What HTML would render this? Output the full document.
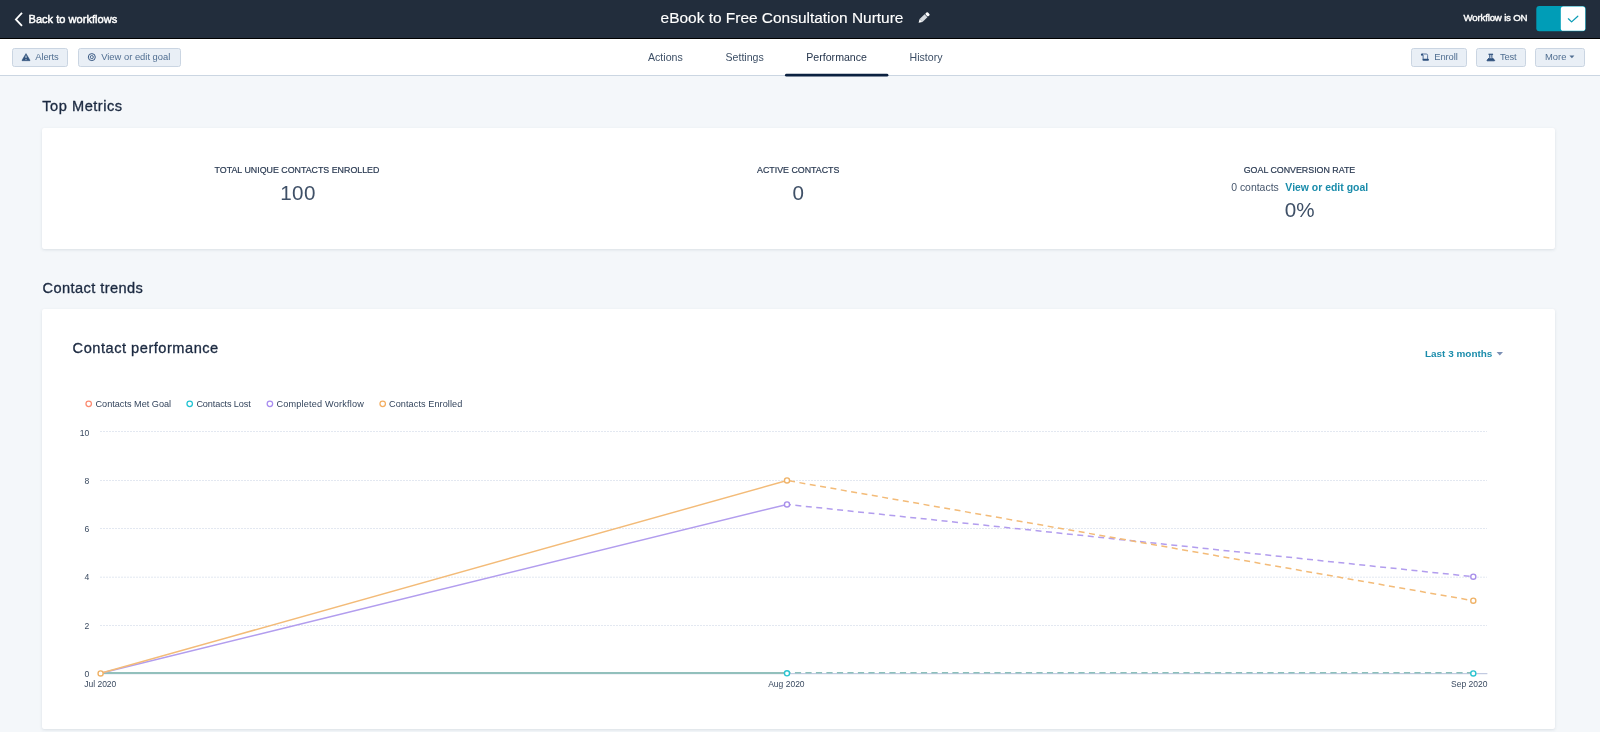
<!DOCTYPE html>
<html>
<head>
<meta charset="utf-8">
<title>Workflow performance</title>
<style>
*{box-sizing:border-box;margin:0;padding:0}
html,body{width:1600px;height:732px;overflow:hidden;background:#f4f7fa;font-family:"Liberation Sans",sans-serif;color:#2e3f55}
.abs{position:absolute;white-space:nowrap;line-height:1}
#hdr{position:absolute;left:0;top:0;width:1600px;height:39px;background:#222d3c;border-bottom:1px solid #000}
#nav{position:absolute;left:0;top:39px;width:1600px;height:37px;background:#fff;border-bottom:1px solid #cbd6e2}
.btn{position:absolute;top:48px;height:19px;background:#e9eff6;border:1px solid #cad5e2;border-radius:2.5px}
.btxt{position:absolute;white-space:nowrap;line-height:1;font-size:9.4px;color:#506e91;top:51.6px}
.tab{position:absolute;white-space:nowrap;line-height:1;font-size:10.6px;color:#3d4f66;top:51.6px}
.card{position:absolute;left:42px;width:1513px;background:#fff;border-radius:2px;box-shadow:0 1px 3px rgba(45,62,80,.12),0 0 1px rgba(45,62,80,.06)}
.h1{position:absolute;white-space:nowrap;line-height:1;font-size:14.6px;color:#1b2940;font-weight:normal;-webkit-text-stroke:0.32px #1b2940;letter-spacing:0.52px}
.mlabel{position:absolute;white-space:nowrap;line-height:1;font-size:8.85px;color:#2a3a52;text-align:center;width:400px;-webkit-text-stroke:0.2px #2a3a52}
.mval{position:absolute;white-space:nowrap;line-height:1;font-size:20.6px;color:#3f5067;text-align:center;width:400px}
.leg{position:absolute;white-space:nowrap;line-height:1;font-size:9.15px;color:#33445c;top:399.5px}
.ax{position:absolute;white-space:nowrap;line-height:1;font-size:8.6px;color:#3a4a60}
</style>
</head>
<body>
<div id="wrap" style="position:absolute;left:0;top:0;width:1600px;height:732px;will-change:transform">
<div id="hdr"></div>
<div id="nav"></div>

<!-- header content -->
<svg class="abs" style="left:12px;top:10px" width="14" height="18" viewBox="12 10 14 18"><path d="M22 12.9 L15.9 19.4 L22 25.9" fill="none" stroke="#fff" stroke-width="1.8" stroke-linecap="butt" stroke-linejoin="miter"/></svg>
<div class="abs" id="back" style="left:28.5px;top:13.6px;font-size:11.1px;color:#fff;-webkit-text-stroke:0.45px #fff">Back to workflows</div>
<div class="abs" id="title" style="left:660.6px;top:9.6px;font-size:15.45px;color:#fff;-webkit-text-stroke:0.15px #fff">eBook to Free Consultation Nurture</div>
<svg class="abs" style="left:914px;top:8px" width="20" height="20" viewBox="914 8 20 20"><g transform="translate(918.6 22.8) rotate(-43.5)"><path d="M0 0 L3.4 -2.05 L3.4 2.05 Z" fill="#fff"/><rect x="3.4" y="-2.05" width="6.8" height="4.1" fill="#d6dbe0"/><rect x="10.8" y="-2.05" width="3.1" height="4.1" rx="1.1" fill="#fff"/></g></svg>
<div class="abs" id="wfon" style="left:1463.6px;top:12.9px;font-size:9.7px;letter-spacing:-0.2px;color:#fff;-webkit-text-stroke:0.4px #fff">Workflow is ON</div>
<svg class="abs" style="left:1530px;top:0" width="60" height="38" viewBox="1530 0 60 38">
  <rect x="1536.3" y="6" width="49.4" height="25.3" rx="3" fill="#009db7"/>
  <rect x="1560.8" y="6.5" width="24.4" height="24.3" rx="2.6" fill="#fff"/>
  <path d="M1568.4 18.8 L1571.6 21.9 L1577.8 16.2" fill="none" stroke="#0a9cb6" stroke-width="1.25" stroke-linecap="round" stroke-linejoin="round"/>
</svg>

<!-- nav buttons left -->
<div class="btn" style="left:12px;width:56px"></div>
<div class="btn" style="left:78px;width:103px"></div>
<svg class="abs" style="left:20px;top:50px" width="14" height="14" viewBox="20 50 14 14"><path d="M26 53.6 L30 60.2 Q30.2 60.7 29.6 60.7 H22.4 Q21.8 60.7 22 60.2 Z" fill="#30527c" stroke="#30527c" stroke-width="0.5" stroke-linejoin="round"/><path d="M26 55.6 V58.1 M26 59 V59.8" stroke="#e9eff6" stroke-width="0.9" fill="none"/></svg>
<svg class="abs" style="left:85px;top:50px" width="14" height="14" viewBox="85 50 14 14"><circle cx="91.8" cy="57.1" r="3.5" fill="none" stroke="#3a5a84" stroke-width="1"/><circle cx="91.8" cy="57.1" r="1.55" fill="none" stroke="#3a5a84" stroke-width="0.9"/></svg>
<div class="btxt" id="b1" style="left:35.3px;letter-spacing:-0.1px">Alerts</div>
<div class="btxt" id="b2" style="left:101.2px">View or edit goal</div>

<!-- tabs -->
<div class="tab" id="t1" style="left:648px">Actions</div>
<div class="tab" id="t2" style="left:725.5px">Settings</div>
<div class="tab" id="t3" style="left:806.3px;color:#26364d">Performance</div>
<div class="tab" id="t4" style="left:909.5px">History</div>
<svg class="abs" style="left:780px;top:70px" width="114" height="10" viewBox="780 70 114 10"><rect x="785" y="73.7" width="103.4" height="2.9" rx="1.45" fill="#0b2140"/></svg>

<!-- nav buttons right -->
<div class="btn" style="left:1411px;width:56px"></div>
<div class="btn" style="left:1476px;width:50px"></div>
<div class="btn" style="left:1535px;width:50px"></div>
<svg class="abs" style="left:1418px;top:50px" width="14" height="14" viewBox="1418 50 14 14">
  <path d="M1422.2 54 H1426.3 Q1427.6 54 1427.6 55.3 V59" fill="none" stroke="#5d78a1" stroke-width="1"/>
  <path d="M1423.1 55 V59.3" fill="none" stroke="#4f6c98" stroke-width="1"/>
  <circle cx="1422" cy="54.7" r="1.1" fill="#2c4f7c"/>
  <path d="M1423.4 59.75 H1428" stroke="#2c4f7c" stroke-width="1.9" stroke-linecap="round" fill="none"/>
</svg>
<svg class="abs" style="left:1484px;top:50px" width="14" height="14" viewBox="1484 50 14 14">
  <path d="M1489.7 54.6 V57.4 L1487 60.3 Q1486.8 60.8 1487.4 60.8 H1494.2 Q1494.8 60.8 1494.6 60.3 L1491.9 57.4 V54.6" fill="#c3cfe0" stroke="#2c4f7c" stroke-width="0.9" stroke-linejoin="round"/>
  <path d="M1488.7 58.3 H1492.9 L1494.6 60.3 Q1494.8 60.8 1494.2 60.8 H1487.4 Q1486.8 60.8 1487 60.3 Z" fill="#2c4f7c"/>
  <path d="M1488.5 54.3 H1493.1" stroke="#2c4f7c" stroke-width="1.2" fill="none"/>
</svg>
<div class="btxt" id="b3" style="left:1434.3px;letter-spacing:-0.1px">Enroll</div>
<div class="btxt" id="b4" style="left:1500px;letter-spacing:-0.2px">Test</div>
<div class="btxt" id="b5" style="left:1545px">More</div>
<svg class="abs" style="left:1568px;top:54px" width="8" height="6" viewBox="1568 54 8 6"><path d="M1569.4 55.6 H1574.4 L1571.9 58.3 Z" fill="#506e91"/></svg>

<!-- body -->
<div class="h1" id="h_top" style="left:42.3px;top:99px">Top Metrics</div>
<div class="card" style="top:128px;height:120.5px"></div>

<div class="mlabel" id="m1l" style="left:97px;top:166.2px">TOTAL UNIQUE CONTACTS ENROLLED</div>
<div class="mval" id="m1v" style="left:98px;top:182.5px;letter-spacing:0.4px">100</div>
<div class="mlabel" id="m2l" style="left:598.2px;top:166.2px">ACTIVE CONTACTS</div>
<div class="mval" id="m2v" style="left:598.3px;top:182.5px">0</div>
<div class="mlabel" id="m3l" style="left:1099.5px;top:166.2px">GOAL CONVERSION RATE</div>
<div class="abs" style="left:1231.2px;top:183.1px;font-size:10.45px;color:#46566c"><span id="m3c">0 contacts</span><span id="m3g" style="color:#1a8cab;font-weight:bold;margin-left:6.6px">View or edit goal</span></div>
<div class="mval" id="m3v" style="left:1099.6px;top:200.2px">0%</div>

<div class="h1" id="h_ct" style="left:42.5px;top:281.3px;letter-spacing:0.42px">Contact trends</div>
<div class="card" style="top:309px;height:420px"></div>
<div class="h1" id="h_cp" style="left:72.6px;top:341.4px">Contact performance</div>
<div class="abs" id="l3m" style="left:1425px;top:348.6px;font-size:9.95px;font-weight:bold;color:#1a8cab">Last 3 months</div>
<svg class="abs" style="left:1495px;top:350px" width="10" height="8" viewBox="1495 350 10 8"><path d="M1496.6 352.1 H1503 L1499.8 355.6 Z" fill="#7b8fb4"/></svg>

<!-- legend -->
<div class="leg" id="lg1" style="left:95.5px">Contacts Met Goal</div>
<div class="leg" id="lg2" style="left:196.4px;letter-spacing:-0.12px">Contacts Lost</div>
<div class="leg" id="lg3" style="left:276.4px;letter-spacing:0.2px">Completed Workflow</div>
<div class="leg" id="lg4" style="left:389px;letter-spacing:0.08px">Contacts Enrolled</div>

<!-- chart -->
<svg class="abs" style="left:0;top:380px" width="1600" height="352" viewBox="0 380 1600 352">
  <g fill="#fff" stroke-width="1.25">
    <circle cx="88.7" cy="403.8" r="2.75" stroke="#fb8c72"/>
    <circle cx="189.7" cy="403.8" r="2.75" stroke="#22c3d2"/>
    <circle cx="269.9" cy="403.8" r="2.75" stroke="#a88cef"/>
    <circle cx="382.7" cy="403.8" r="2.75" stroke="#f3ae62"/>
  </g>
  <g stroke="#e3e8f1" stroke-width="1" stroke-dasharray="2 1" fill="none">
    <path d="M100 431.5H1487M100 480.5H1487M100 528.5H1487M100 577.2H1487M100 625.5H1487"/>
  </g>
  <path d="M100 673.7H1487.4" stroke="#b4bedb" stroke-width="1" fill="none"/>
  <!-- zero series -->
  <path d="M100 673H787" stroke="#92c0bc" stroke-width="2" fill="none"/>
  <path d="M787 672.7H1473" stroke="#8cbfbb" stroke-width="1.6" stroke-dasharray="6.2 4.3" stroke-dashoffset="2.6" fill="none"/>
  <!-- purple -->
  <path d="M100.6 673.3L787 504.4" stroke="#b29dee" stroke-width="1.5" fill="none"/>
  <path d="M787 504.4L1473.3 576.7" stroke="#b29dee" stroke-width="1.5" stroke-dasharray="6 4.5" stroke-dashoffset="2.1" fill="none"/>
  <!-- orange -->
  <path d="M100.6 673.3L787 480.45" stroke="#f3bb78" stroke-width="1.5" fill="none"/>
  <path d="M787 480.45L1473.3 600.7" stroke="#f3bb78" stroke-width="1.5" stroke-dasharray="6 4.5" stroke-dashoffset="8.4" fill="none"/>
  <g fill="#fff" stroke-width="1.4">
    <circle cx="787" cy="504.4" r="2.55" stroke="#a88fea"/>
    <circle cx="1473.3" cy="576.7" r="2.55" stroke="#a88fea"/>
    <circle cx="787" cy="480.45" r="2.55" stroke="#efb267"/>
    <circle cx="1473.3" cy="600.7" r="2.55" stroke="#efb267"/>
    <circle cx="787" cy="673.3" r="2.55" stroke="#2bc4d0"/>
    <circle cx="1473.3" cy="673.4" r="2.55" stroke="#2bc4d0"/>
    <circle cx="100.6" cy="673.4" r="2.55" stroke="#efb267"/>
  </g>
</svg>

<div class="ax" id="y10" style="left:60px;width:29.2px;text-align:right;top:428.7px">10</div>
<div class="ax" id="y8" style="left:60px;width:29.2px;text-align:right;top:477px">8</div>
<div class="ax" id="y6" style="left:60px;width:29.2px;text-align:right;top:525px">6</div>
<div class="ax" id="y4" style="left:60px;width:29.2px;text-align:right;top:573.3px">4</div>
<div class="ax" id="y2" style="left:60px;width:29.2px;text-align:right;top:621.6px">2</div>
<div class="ax" id="y0" style="left:60px;width:29.2px;text-align:right;top:669.9px">0</div>
<div class="ax" id="x1" style="left:84.2px;top:679.7px;font-size:8.5px">Jul 2020</div>
<div class="ax" id="x2" style="left:736.4px;width:100px;text-align:center;top:679.7px;font-size:8.5px">Aug 2020</div>
<div class="ax" id="x3" style="left:1387.4px;width:100px;text-align:right;top:679.7px;font-size:8.5px">Sep 2020</div>
</div>
</body>
</html>
